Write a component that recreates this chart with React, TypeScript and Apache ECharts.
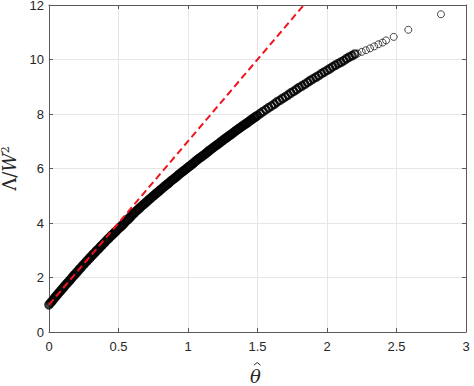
import React, { useEffect, useRef } from "react";
import * as echarts from "echarts";

// θ̂ values of the scatter points in the dense band
const denseTheta: number[] = [
  0.00, 0.01, 0.02, 0.03, 0.04, 0.05, 0.06, 0.07, 0.08, 0.09,
  0.10, 0.11, 0.12, 0.13, 0.14, 0.15, 0.16, 0.17, 0.18, 0.19,
  0.20, 0.21, 0.22, 0.23, 0.24, 0.25, 0.26, 0.27, 0.28, 0.29,
  0.30, 0.31, 0.32, 0.33, 0.34, 0.35, 0.36, 0.37, 0.38, 0.39,
  0.40, 0.41, 0.42, 0.43, 0.44, 0.45, 0.46, 0.47, 0.48, 0.49,
  0.50, 0.51, 0.52, 0.53, 0.54, 0.55, 0.56, 0.57, 0.58, 0.59,
  0.60, 0.61, 0.62, 0.63, 0.64, 0.65, 0.66, 0.67, 0.68, 0.69,
  0.70, 0.71, 0.72, 0.73, 0.74, 0.75, 0.76, 0.77, 0.78, 0.79,
  0.80, 0.81, 0.82, 0.83, 0.84, 0.85, 0.86, 0.87, 0.88, 0.89,
  0.90, 0.91, 0.92, 0.93, 0.94, 0.95, 0.96, 0.97, 0.98, 0.99,
  1.00, 1.01, 1.02, 1.03, 1.04, 1.05, 1.06, 1.07, 1.08, 1.09,
  1.10, 1.11, 1.12, 1.13, 1.14, 1.15, 1.16, 1.17, 1.18, 1.19,
  1.20, 1.21, 1.22, 1.23, 1.24, 1.25, 1.26, 1.27, 1.28, 1.29,
  1.30, 1.31, 1.32, 1.33, 1.34, 1.35, 1.36, 1.37, 1.38, 1.39,
  1.40, 1.41, 1.42, 1.43, 1.44, 1.45, 1.46, 1.47, 1.48, 1.49,
  1.50, 1.52, 1.54, 1.56, 1.58, 1.60, 1.62, 1.64, 1.66, 1.68,
  1.70, 1.72, 1.74, 1.76, 1.78, 1.80, 1.82, 1.84, 1.86, 1.88,
  1.90, 1.92, 1.94, 1.96, 1.98, 2.00, 2.02, 2.04, 2.06, 2.08,
  2.10, 2.12, 2.14, 2.16, 2.18, 2.20,
];

// Λ/W² values of the dense band
const denseLambda: number[] = [
  1.00, 1.06, 1.12, 1.18, 1.25, 1.31, 1.37, 1.43, 1.49, 1.55,
  1.61, 1.67, 1.73, 1.79, 1.84, 1.90, 1.96, 2.02, 2.08, 2.13,
  2.19, 2.25, 2.31, 2.36, 2.42, 2.48, 2.53, 2.59, 2.64, 2.70,
  2.75, 2.81, 2.86, 2.91, 2.97, 3.02, 3.07, 3.13, 3.18, 3.23,
  3.28, 3.34, 3.39, 3.44, 3.49, 3.54, 3.59, 3.64, 3.69, 3.74,
  3.79, 3.84, 3.88, 3.93, 3.98, 4.05, 4.10, 4.14, 4.19, 4.24,
  4.31, 4.35, 4.40, 4.45, 4.49, 4.54, 4.59, 4.63, 4.68, 4.72,
  4.77, 4.81, 4.86, 4.90, 4.95, 4.99, 5.03, 5.08, 5.12, 5.16,
  5.21, 5.25, 5.29, 5.34, 5.38, 5.42, 5.46, 5.51, 5.55, 5.59,
  5.63, 5.67, 5.71, 5.76, 5.80, 5.84, 5.88, 5.92, 5.96, 6.00,
  6.04, 6.08, 6.12, 6.16, 6.20, 6.25, 6.29, 6.33, 6.37, 6.41,
  6.44, 6.48, 6.52, 6.56, 6.60, 6.65, 6.68, 6.72, 6.76, 6.80,
  6.84, 6.87, 6.91, 6.95, 6.99, 7.03, 7.07, 7.11, 7.14, 7.18,
  7.22, 7.25, 7.29, 7.33, 7.37, 7.41, 7.44, 7.48, 7.52, 7.55,
  7.59, 7.62, 7.66, 7.69, 7.73, 7.77, 7.81, 7.84, 7.88, 7.91,
  7.95, 8.02, 8.09, 8.16, 8.23, 8.29, 8.36, 8.44, 8.50, 8.57,
  8.63, 8.70, 8.77, 8.83, 8.90, 8.97, 9.03, 9.09, 9.16, 9.23,
  9.29, 9.35, 9.41, 9.48, 9.54, 9.60, 9.66, 9.73, 9.79, 9.85,
  9.90, 9.96, 10.03, 10.09, 10.14, 10.20,
];

// sparse tail of the scatter
const tailTheta: number[] = [2.22, 2.25, 2.28, 2.31, 2.34, 2.37, 2.40, 2.425, 2.48, 2.585, 2.82];
const tailLambda: number[] = [10.22, 10.28, 10.34, 10.41, 10.48, 10.56, 10.62, 10.70, 10.83, 11.09, 11.66];

// red dashed reference line endpoints
const lineTheta: number[] = [0, 1.8333];
const lineLambda: number[] = [1, 12];

const xTickLabels: string[] = ["0", "0.5", "1", "1.5", "2", "2.5", "3"];
const yTickLabels: string[] = ["0", "2", "4", "6", "8", "10", "12"];

export default function App() {
  const ref = useRef<HTMLDivElement>(null);

  useEffect(() => {
    if (!ref.current) return;
    const chart = echarts.init(ref.current, undefined, { renderer: "svg" });

    const densePts = denseTheta.map((t, i) => [t, denseLambda[i]]);
    const tailPts = tailTheta.map((t, i) => [t, tailLambda[i]]);
    const linePts = lineTheta.map((t, i) => [t, lineLambda[i]]);

    const axisLineStyle = { color: "#5a5a5a", width: 1 };
    const labelFont = {
      fontFamily: "Liberation Sans, Arial, sans-serif",
      fontSize: 13,
      color: "#262626",
    };
    const serif = "DejaVu Serif, Liberation Serif, serif";

    chart.setOption({
      animation: false,
      backgroundColor: "#ffffff",
      grid: {
        left: 49,
        right: 8,
        top: 5,
        bottom: 54,
        containLabel: false,
        outerBoundsMode: "none",
      },
      graphic: [
        {
          type: "group",
          left: 250,
          top: 360,
          children: [
            {
              type: "text",
              x: 7,
              y: 14,
              style: {
                text: "θ",
                fontFamily: serif,
                fontStyle: "italic",
                fontSize: 18,
                fill: "#262626",
                align: "center",
                verticalAlign: "middle",
              },
            },
            {
              type: "polyline",
              shape: { points: [[5.5, 3.2], [8.8, 0.5], [12, 3.2]] },
              style: { stroke: "#262626", lineWidth: 1, fill: "none" },
            },
          ],
        },
      ],
      xAxis: [
        {
          type: "value",
          min: 0,
          max: 3,
          interval: 0.5,
          position: "bottom",
          axisLine: { show: true, onZero: false, lineStyle: axisLineStyle },
          axisTick: { show: true, inside: true, length: 4, lineStyle: axisLineStyle },
          splitLine: { show: true, lineStyle: { color: "#e6e6e6", width: 1 } },
          axisLabel: {
            ...labelFont,
            margin: 8,
            showMinLabel: true,
            showMaxLabel: true,
            formatter: (v: number) => xTickLabels[Math.round(v / 0.5)] ?? "",
          },
        },
        {
          type: "value",
          min: 0,
          max: 3,
          interval: 0.5,
          position: "top",
          axisLine: { show: true, onZero: false, lineStyle: axisLineStyle },
          axisTick: { show: true, inside: true, length: 4, lineStyle: axisLineStyle },
          splitLine: { show: false },
          axisLabel: { show: false },
        },
      ],
      yAxis: [
        {
          type: "value",
          min: 0,
          max: 12,
          interval: 2,
          position: "left",
          axisLine: { show: true, onZero: false, lineStyle: axisLineStyle },
          axisTick: { show: true, inside: true, length: 4, lineStyle: axisLineStyle },
          splitLine: { show: true, lineStyle: { color: "#e6e6e6", width: 1 } },
          axisLabel: {
            ...labelFont,
            margin: 5,
            showMinLabel: true,
            showMaxLabel: true,
            formatter: (v: number) => yTickLabels[Math.round(v / 2)] ?? "",
          },
          name: "{n|Λ/}{w|W}{s|2}",
          nameLocation: "middle",
          nameGap: 20,
          nameRotate: 90,
          nameTextStyle: {
            color: "#262626",
            rich: {
              n: {
                fontFamily: serif,
                fontSize: 18,
                color: "#262626",
                lineHeight: 19,
                verticalAlign: "bottom",
              },
              w: {
                fontFamily: serif,
                fontStyle: "italic",
                fontSize: 18,
                color: "#262626",
                lineHeight: 19,
                verticalAlign: "bottom",
              },
              s: {
                fontFamily: serif,
                fontSize: 11,
                color: "#262626",
                lineHeight: 19,
                verticalAlign: "top",
              },
            },
          },
        },
        {
          type: "value",
          min: 0,
          max: 12,
          interval: 2,
          position: "right",
          axisLine: { show: true, onZero: false, lineStyle: axisLineStyle },
          axisTick: { show: true, inside: true, length: 4, lineStyle: axisLineStyle },
          splitLine: { show: false },
          axisLabel: { show: false },
        },
      ],
      series: [
        {
          type: "scatter",
          xAxisIndex: 0,
          yAxisIndex: 0,
          data: densePts,
          symbol: "circle",
          symbolSize: 7.5,
          itemStyle: {
            color: "rgba(0,0,0,0)",
            borderColor: "#000000",
            borderWidth: 2.2,
          },
          silent: true,
          z: 2,
        },
        {
          type: "scatter",
          xAxisIndex: 0,
          yAxisIndex: 0,
          data: tailPts,
          symbol: "circle",
          symbolSize: 7,
          itemStyle: {
            color: "rgba(0,0,0,0)",
            borderColor: "#1a1a1a",
            borderWidth: 1,
          },
          silent: true,
          z: 2,
        },
        {
          type: "line",
          xAxisIndex: 0,
          yAxisIndex: 0,
          data: linePts,
          showSymbol: false,
          symbol: "none",
          lineStyle: { color: "#f0141e", width: 2, type: [7, 4] },
          silent: true,
          z: 3,
        },
      ],
    });

    return () => chart.dispose();
  }, []);

  return (
    <div
      ref={ref}
      style={{ position: "fixed", left: 0, top: 0, width: 474, height: 386 }}
    />
  );
}
